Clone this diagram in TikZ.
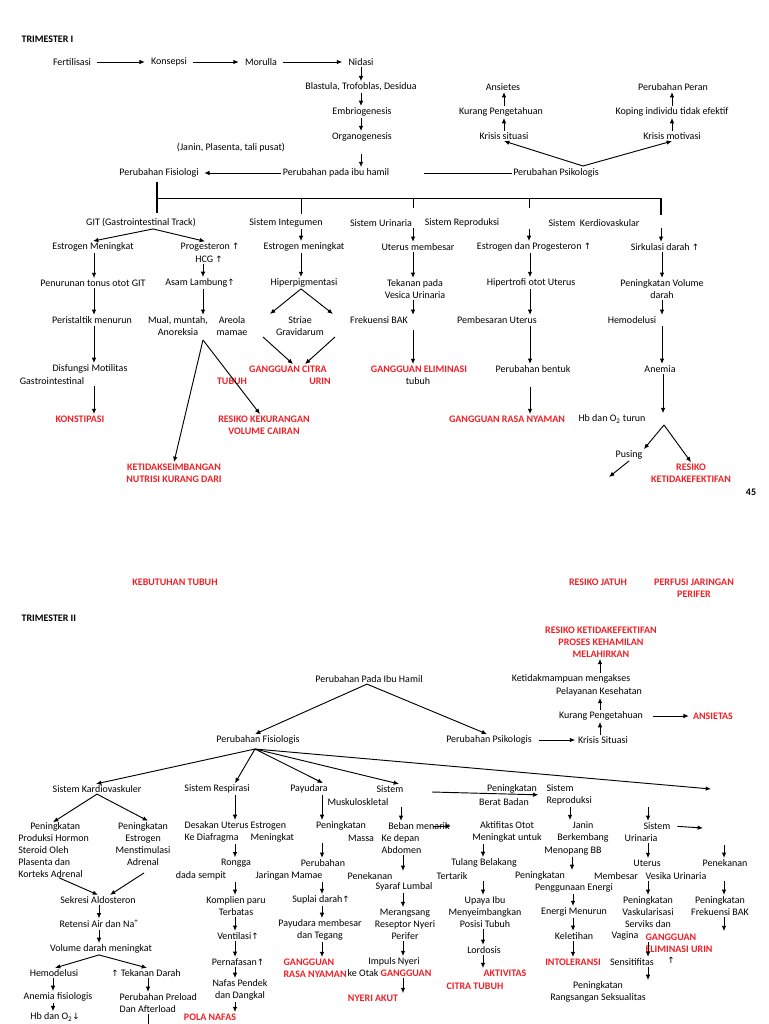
\documentclass[tikz,border=0pt]{standalone}
\usepackage{fontspec}
\setmainfont{Carlito}
\newfontfamily\symf{DejaVu Sans}
\usetikzlibrary{arrows.meta,positioning,calc}
\definecolor{dxred}{RGB}{238,32,38}
\newcommand\tsz{\fontsize{7.5}{9}\selectfont}
\newcommand\upar{{\symf\fontsize{6.5}{9}\selectfont\char"2191}}
\newcommand\dnar{{\symf\fontsize{6.5}{9}\selectfont\char"2193}}

\begin{document}
\begin{tikzpicture}[x=0.75pt,y=-0.75pt,
	every node/.style={inner sep=1pt,align=center,font=\tsz},
	dx/.style={text=dxred,font=\tsz\bfseries},
	link/.style={->,line width=0.7pt},
	hlink/.style={link,shorten <=3pt,shorten >=3.5pt},
	bar/.style={line width=0.7pt},
	>={Latex[length=4pt,width=3.4pt]}]
	\useasboundingbox (0,0) rectangle (768,1024);

	% trimester I
	\node[anchor=west,font=\tsz\bfseries] (tri1) at (20,39) {TRIMESTER I};
	\node (fert) at (72,62) {Fertilisasi};
	\node (kons) at (169,62) {Konsepsi};
	\node (mor) at (261,62) {Morulla};
	\node (nid) at (361,62) {Nidasi};
	\node (blast) at (361,87) {Blastula, Trofoblas, Desidua};
	\node (embr) at (362,112) {Embriogenesis};
	\node (organ) at (362,137) {Organogenesis};
	\node (janin) at (231,148) {(Janin, Plasenta, tali pusat)};
	\node (ibu) at (336,173) {Perubahan pada ibu hamil};
	\node (fisio) at (159,173) {Perubahan Fisiologi};
	\node (psiko) at (556,173) {Perubahan Psikologis};
	\node (ksit) at (504,136) {Krisis situasi};
	\node (kurang) at (501,112) {Kurang Pengetahuan};
	\node (ansi) at (503,87) {Ansietes};
	\node (kmot) at (672,136) {Krisis motivasi};
	\node (koping) at (672,112) {Koping individu tidak efektif};
	\node (peran) at (673,87) {Perubahan Peran};

	\draw[hlink] (fert) -- (kons);
	\draw[hlink] (kons) -- (mor);
	\draw[hlink] (mor) -- (nid);
	\draw[link] (nid) -- (blast);
	\draw[link] (blast) -- (nid |- embr.north);
	\draw[link] (nid |- embr.south) -- (nid |- organ.north);
	\draw[link,shorten <=8pt] (nid |- organ.south) -- (nid |- ibu.north);
	\draw[link,shorten >=3pt] (ibu.west) -- (fisio.east);
	\draw[bar,shorten <=25pt] (ibu.east) -- (psiko.west);

	\coordinate (pskTop) at (583,166);
	\draw[link] (pskTop) -- (ksit.south);
	\draw[link] (pskTop) -- (kmot.south);
	\draw[link] (ksit) -- (ksit |- kurang.south);
	\draw[link] (ksit |- kurang.north) -- (ksit |- ansi.south);
	\draw[link] (kmot) -- (kmot |- koping.south);
	\draw[link] (kmot |- koping.north) -- (kmot |- peran.south);

	\node (git) at (141,223) {GIT (Gastrointestinal Track)};
	\node (integ) at (286,223) {Sistem Integumen};
	\node (urin) at (381,223) {Sistem Urinaria};
	\node (repro) at (462,223) {Sistem Reproduksi};
	\node (kard) at (594,223) {Sistem\ \ Kerdiovaskular};

	\coordinate (busL) at (157,198);
	\coordinate (busR) at (661,198);
	\draw[bar] (busL) -- (busR);
	\draw[line width=1.6pt,shorten <=2pt,shorten >=3pt] (busL |- fisio.south) -- (busL |- git.north);
	\draw[bar,shorten >=2pt] (301,0 |- busL) -- (301,0 |- integ.north);
	\draw[bar] (413,0 |- busL) -- ++(0,10);
	\draw[bar] (529,0 |- busL) -- ++(0,10);
	\draw[line width=1.6pt,shorten >=2pt] (busR) -- (busR |- kard.north);

	\node (estm) at (93,247) {Estrogen Meningkat};
	\node (prog) at (210,247) {Progesteron \upar};
	\node (hcg) at (209,259) {HCG \upar};
	\node (esti) at (304,247) {Estrogen meningkat};
	\node (uterus) at (418,247) {Uterus membesar};
	\node (estpro) at (534,247) {Estrogen dan Progesteron \upar};
	\node (sirk) at (665,247) {Sirkulasi darah \upar};

	\draw[link] (153,0 |- git.south) -- (estm.north);
	\draw[link] (153,0 |- git.south) -- (205,0 |- prog.north);
	\draw[link] (301,0 |- integ.south) -- (301,0 |- esti.north);
	\draw[link] (413,0 |- urin.south) -- (413,0 |- uterus.north);
	\draw[link] (529,0 |- repro.south) -- (529,0 |- estpro.north);
	\draw[link] (661,0 |- kard.south) -- (661,0 |- sirk.north);

	\node (penur) at (93,283) {Penurunan tonus otot GIT};
	\node (asam) at (200,283) {Asam Lambung\upar};
	\node (hiper) at (304,283) {Hiperpigmentasi};
	\node (tekan) at (415,289) {Tekanan pada\\Vesica Urinaria};
	\node (hipert) at (531,283) {Hipertrofi otot Uterus};
	\node (pvol) at (662,289) {Peningkatan Volume\\darah};

	\draw[link] (94,0 |- estm.south) -- (94,0 |- penur.north);
	\draw[link] (203,0 |- hcg.south) -- (203,0 |- asam.north);
	\draw[link] (301,0 |- esti.south) -- (301,0 |- hiper.north);
	\draw[link] (413,0 |- uterus.south) -- (413,0 |- tekan.north);
	\draw[link] (530,0 |- estpro.south) -- (530,0 |- hipert.north);
	\draw[link] (662,0 |- sirk.south) -- (662,0 |- pvol.north);

	\node (peri) at (92,320) {Peristaltik menurun};
	\node (mual) at (178,326) {Mual, muntah,\\Anoreksia};
	\node (areola) at (232,326) {Areola\\mamae};
	\node (striae) at (300,326) {Striae\\Gravidarum};
	\node (frek) at (379,320) {Frekuensi BAK};
	\node (pemb) at (497,320) {Pembesaran Uterus};
	\node (hemo1) at (632,320) {Hemodelusi};

	\coordinate (stL) at (270,314);
	\coordinate (stR) at (333,314);
	\draw[link] (94,0 |- penur.south) -- (94,0 |- peri.north);
	\draw[link] (203,0 |- asam.south) -- (203,0 |- mual.north);
	\draw[link] (301,0 |- hiper.south) -- (stL);
	\draw[link] (301,0 |- hiper.south) -- (stR);
	\draw[link] (413,0 |- tekan.south) -- (413,0 |- frek.north);
	\draw[link] (530,0 |- hipert.south) -- (530,0 |- pemb.north);
	\draw[link] (662,0 |- pvol.south) -- (662,0 |- hemo1.north);

	\node (disf) at (90,369) {Disfungsi Motilitas};
	\node (gastro) at (52,381) {Gastrointestinal};
	\node[dx] (citra) at (288,369) {GANGGUAN CITRA};
	\node[dx] (tubuh1) at (232,381) {TUBUH};
	\node[dx] (urin1) at (320,381) {URIN};
	\node[dx] (elim) at (419,369) {GANGGUAN ELIMINASI};
	\node (tubuh2) at (418,381) {tubuh};
	\node (bentuk) at (533,369) {Perubahan bentuk};
	\node (anemia) at (660,369) {Anemia};

	\coordinate (cL) at (263,337);
	\coordinate (cR) at (335,337);
	\draw[link] (cL) -- (293,0 |- citra.north);
	\draw[link] (cR) -- (305,0 |- citra.north);
	\draw[link,shorten <=1pt] (94,0 |- peri.south) -- (94,0 |- disf.north);
	\draw[link,shorten <=4pt] (413,0 |- frek.south) -- (413,0 |- elim.north);
	\draw[link,shorten <=1pt] (530,0 |- pemb.south) -- (530,0 |- bentuk.north);
	\draw[link,shorten <=1pt] (662,0 |- hemo1.south) -- (662,0 |- anemia.north);

	\node[dx] (konst) at (80,419) {KONSTIPASI};
	\node[dx] (resvol) at (264,425) {RESIKO KEKURANGAN\\VOLUME CAIRAN};
	\node[dx] (rasa1) at (507,419) {GANGGUAN RASA NYAMAN};
	\node (hb) at (612,419) {Hb dan O\textsubscript{2} turun};
	\node (pusing) at (629,455) {Pusing};
	\node[dx] (resk) at (691,473) {RESIKO\\KETIDAKEFEKTIFAN};
	\node[dx] (nutri) at (174,473) {KETIDAKSEIMBANGAN\\NUTRISI KURANG DARI};
	\node[font=\tsz\bfseries] (page) at (751,492) {45};

	\coordinate (mualB) at (203,340);
	\draw[link] (mualB) -- (nutri.north);
	\draw[link] (mualB) -- (260,0 |- resvol.north);
	\draw[link] (94,0 |- gastro.south) -- (94,0 |- konst.north);
	\draw[link,shorten <=10pt] (530,0 |- bentuk.south) -- (530,0 |- rasa1.north);
	\draw[link] (663,0 |- anemia.south) -- (663,0 |- hb.north);
	\coordinate (fork) at (664,425);
	\coordinate (pusOut) at (609,477);
	\draw[link] (fork) -- (pusing.north east);
	\draw[link] (fork) -- (resk.north);
	\draw[link] (pusing.south) -- (pusOut);

	\node[dx] (kebut) at (175,582) {KEBUTUHAN TUBUH};
	\node[dx] (jatuh) at (598,582) {RESIKO JATUH};
	\node[dx] (perfusi) at (694,588) {PERFUSI JARINGAN\\PERIFER};

	% trimester II
	\node[anchor=west,font=\tsz\bfseries] (tri2) at (20,618) {TRIMESTER II};
	\node[dx] (rkp) at (601,642) {RESIKO KETIDAKEFEKTIFAN\\PROSES KEHAMILAN\\MELAHIRKAN};
	\node (mampu) at (571,679) {Ketidakmampuan mengakses};
	\node (layan) at (599,692) {Pelayanan Kesehatan};
	\node (kurang2) at (601,716) {Kurang Pengetahuan};
	\node[dx] (ansietas) at (713,716) {ANSIETAS};
	\node (krisis2) at (603,740) {Krisis Situasi};
	\node (psiko2) at (489,740) {Perubahan Psikologis};
	\node (ibu2) at (369,679) {Perubahan Pada Ibu Hamil};
	\node (fisio2) at (258,740) {Perubahan Fisiologis};

	\draw[link] (600,0 |- mampu.north) -- (600,0 |- rkp.south);
	\draw[link] (600,0 |- kurang2.north) -- (600,0 |- layan.south);
	\draw[link] (600,0 |- krisis2.north) -- (600,0 |- kurang2.south);
	\draw[link,shorten <=6pt,shorten >=2pt] (kurang2) -- (ansietas);
	\draw[link,shorten <=4pt,shorten >=1pt] (psiko2) -- (krisis2);
	\draw[link] (367,0 |- ibu2.south) -- (255,0 |- fisio2.north);
	\draw[link] (367,0 |- ibu2.south) -- (487,0 |- psiko2.north);

	\node (kardio2) at (97,789) {Sistem Kardiovaskuler};
	\node (resp) at (217,789) {Sistem Respirasi};
	\node (payu) at (309,789) {Payudara};
	\node (musk) at (390,789) {Sistem};
	\node (muskl) at (358,802) {Muskuloskletal};
	\node (pBB) at (512,789) {Peningkatan};
	\node (bBB) at (504,802) {Berat Badan};
	\node[anchor=west,align=left] (repro2) at (545,795) {Sistem\\Reproduksi};

	\coordinate (fan) at (255,749);
	\coordinate (farR) at (711,789);
	\coordinate (mskR) at (432,792);
	\draw[link] (fan) -- (96,0 |- kardio2.north);
	\draw[link] (fan) -- (235,0 |- resp.north);
	\draw[link] (fan) -- (323,0 |- payu.north);
	\draw[link] (fan) -- (399,0 |- musk.north);
	\draw[link] (fan) -- (farR);
	\draw[link,shorten >=5pt] (mskR) -- (repro2.west);

	% kardiovaskuler
	\node[anchor=west,align=left,inner sep=0pt] (pk1) at (18,850) {\hspace{9pt}Peningkatan\\Produksi Hormon\\Steroid Oleh\\Plasenta dan\\Korteks Adrenal};
	\node (pk2) at (143,844) {Peningkatan\\Estrogen\\Menstimulasi\\Adrenal};
	\node (sekresi) at (98,900) {Sekresi Aldosteron};
	\node (retensi) at (99,924) {Retensi Air dan Na\textsuperscript{+}};
	\node (vold) at (101,949) {Volume darah meningkat};
	\node (hemo2) at (54,973) {Hemodelusi};
	\node (tdarah) at (146,973) {\upar\ Tekanan Darah};
	\node (anfis) at (58,997) {Anemia fisiologis};
	\node[anchor=west,align=left] (prel) at (118,1003) {Perubahan Preload\\Dan Afterload};
	\node (hbo) at (55,1017) {Hb dan O\textsubscript{2}\dnar};

	\draw[link] (kardio2.south) -- (53,0 |- pk1.north);
	\draw[link] (kardio2.south) -- (148,0 |- pk2.north);
	\draw[link] (59,0 |- pk1.south) -- (98,0 |- sekresi.north);
	\draw[link,shorten <=8pt] (153,0 |- pk2.south) -- (110,0 |- sekresi.north);
	\draw[link] (99,0 |- sekresi.south) -- (99,0 |- retensi.north);
	\draw[link] (99,0 |- retensi.south) -- (99,0 |- vold.north);
	\draw[link] (99,0 |- vold.south) -- (55,0 |- hemo2.north);
	\draw[link] (99,0 |- vold.south) -- (147,0 |- tdarah.north);
	\draw[link] (53,0 |- hemo2.south) -- (53,0 |- anfis.north);
	\draw[link] (148,0 |- tdarah.south) -- (148,0 |- prel.north);
	\draw[link] (53,0 |- anfis.south) -- (53,0 |- hbo.north);
	\draw[link] (148,0 |- prel.south) -- ++(0,18);

	% respirasi
	\node[anchor=west,align=left] (desak) at (183,832) {Desakan Uterus\\Ke Diafragma};
	\node[anchor=west,align=left] (estr2) at (249,832) {Estrogen\\Meningkat};
	\node (rongga) at (236,863) {Rongga};
	\node (dada) at (201,876) {dada sempit};
	\node (komp) at (236,906) {Komplien paru\\Terbatas};
	\node (vent) at (238,936) {Ventilasi\upar};
	\node (pern) at (238,962) {Pernafasan\upar};
	\node (nafas) at (240,990) {Nafas Pendek\\dan Dangkal};
	\node[dx] (pola) at (210,1017) {POLA NAFAS};

	\draw[link] (235,0 |- resp.south) -- (235,0 |- desak.north);
	\draw[link] (235,0 |- desak.south) -- (235,0 |- rongga.north);
	\draw[link] (235,0 |- dada.south) -- (235,0 |- komp.north);
	\draw[link] (235,0 |- komp.south) -- (235,0 |- vent.north);
	\draw[link] (235,0 |- vent.south) -- (235,0 |- pern.north);
	\draw[link] (235,0 |- pern.south) -- (235,0 |- nafas.north);
	\draw[link] (235,0 |- nafas.south) -- (235,0 |- pola.north);

	% payudara
	\node (ppk) at (341,826) {Peningkatan};
	\node (massa) at (361,838) {Massa};
	\node (perub) at (323,863) {Perubahan};
	\node (jarm) at (289,876) {Jaringan Mamae};
	\node (suplai) at (321,900) {Suplai darah\upar};
	\node (pmb) at (320,930) {Payudara membesar\\dan Tegang};
	\node[dx,anchor=west,align=left] (grn) at (282,968) {GANGGUAN\\RASA NYAMAN};

	\draw[link] (322,0 |- payu.south) -- (322,0 |- ppk.north);
	\draw[link] (322,0 |- massa.south) -- (322,0 |- perub.north);
	\draw[link] (322,0 |- jarm.south) -- (322,0 |- suplai.north);
	\draw[link] (322,0 |- suplai.south) -- (322,0 |- pmb.north);
	\draw[link] (322,0 |- pmb.south) -- (322,0 |- grn.north);

	% muskuloskletal
	\node[anchor=west,align=left] (beban) at (380,838) {\hspace{5pt}Beban menarik\\Ke depan\\Abdomen};
	\node (pen) at (370,876) {Penekanan};
	\node (syaraf) at (404,887) {Syaraf Lumbal};
	\node (meran) at (405,924) {Merangsang\\Reseptor Nyeri\\Perifer};
	\node (impuls) at (394,962) {Impuls Nyeri};
	\node (otak) at (363,973) {ke Otak};
	\node[dx] (gang2) at (406,973) {GANGGUAN};
	\node[dx] (nyeri) at (373,998) {NYERI AKUT};

	\coordinate (bbn1) at (433,826);
	\coordinate (bbn2) at (451,826);
	\draw[link] (bbn1) -- (bbn2);
	\draw[link] (401,0 |- muskl.south) -- (401,0 |- beban.north);
	\draw[link] (403,0 |- beban.south) -- (403,0 |- pen.north);
	\draw[link] (403,0 |- syaraf.south) -- (403,0 |- meran.north);
	\draw[link] (403,0 |- meran.south) -- (403,0 |- impuls.north);
	\draw[link] (403,0 |- gang2.south) -- (403,0 |- nyeri.north);

	% berat badan
	\node (aktif) at (507,832) {Aktifitas Otot\\Meningkat untuk};
	\node (tulang) at (484,863) {Tulang Belakang};
	\node (tertarik) at (452,876) {Tertarik};
	\node (upaya) at (485,912) {Upaya Ibu\\Menyeimbangkan\\Posisi Tubuh};
	\node (lordo) at (484,950) {Lordosis};
	\node[dx] (aktiv) at (505,973) {AKTIVITAS};
	\node[dx] (citra2) at (475,986) {CITRA TUBUH};

	\draw[link] (483,0 |- aktif.south) -- (483,0 |- tulang.north);
	\draw[link] (483,0 |- tertarik.south) -- (483,0 |- upaya.north);
	\draw[link] (483,0 |- upaya.south) -- (483,0 |- lordo.north);
	\draw[link] (483,0 |- lordo.south) -- (483,0 |- aktiv.north);

	% reproduksi
	\node (janin2) at (583,832) {Janin\\Berkembang};
	\node (menop) at (573,851) {Menopang BB};
	\node (pengk) at (540,876) {Peningkatan};
	\node (peng) at (574,888) {Penggunaan Energi};
	\node (energi) at (574,912) {Energi Menurun};
	\node (letih) at (574,936) {Keletihan};
	\node[dx] (intol) at (573,962) {INTOLERANSI};

	\draw[link] (570,0 |- repro2.south) -- (570,0 |- janin2.north);
	\draw[link] (572,0 |- menop.south) -- (572,0 |- pengk.north);
	\draw[link] (573,0 |- peng.south) -- (573,0 |- energi.north);
	\draw[link] (573,0 |- energi.south) -- (573,0 |- letih.north);
	\draw[link] (573,0 |- letih.south) -- (573,0 |- intol.north);

	% urinaria
	\node (sisu) at (657,826) {Sistem};
	\node (urina) at (641,838) {Urinaria};
	\node (uter2) at (647,863) {Uterus};
	\node (memb) at (616,876) {Membesar};
	\node (vask) at (648,912) {Peningkatan\\Vaskularisasi\\Serviks dan};
	\node (vagina) at (625,936) {Vagina};
	\node[dx,anchor=west,align=left] (gang3) at (644,943) {GANGGUAN\\ELIMINASI URIN};
	\node (sens) at (632,962) {Sensitifitas};
	\node (upsym) at (671,960) {\upar};
	\node (rangs) at (598,992) {Peningkatan\\Rangsangan Seksualitas};
	\node (penek) at (725,863) {Penekanan};
	\node (vesika) at (676,876) {Vesika Urinaria};
	\node (pfrek) at (720,906) {Peningkatan\\Frekuensi BAK};

	\coordinate (urTop) at (648,807);
	\coordinate (urR) at (703,828);
	\coordinate (vrTop) at (724,845);
	\draw[link] (urTop) -- (648,0 |- sisu.north);
	\draw[link,shorten <=4pt] (sisu.east) -- (urR);
	\draw[link] (648,0 |- urina.south) -- (648,0 |- uter2.north);
	\draw[link] (648,0 |- memb.south) -- (648,0 |- vask.north);
	\draw[link] (648,0 |- vagina.south) -- (648,0 |- sens.north);
	\draw[link] (648,0 |- sens.south) -- (648,0 |- rangs.north);
	\draw[link] (vrTop) -- (724,0 |- penek.north);
	\draw[link] (724,0 |- vesika.south) -- (724,0 |- pfrek.north);
	\draw[link] (724,0 |- pfrek.south) -- ++(0,14);

\end{tikzpicture}
\end{document}
